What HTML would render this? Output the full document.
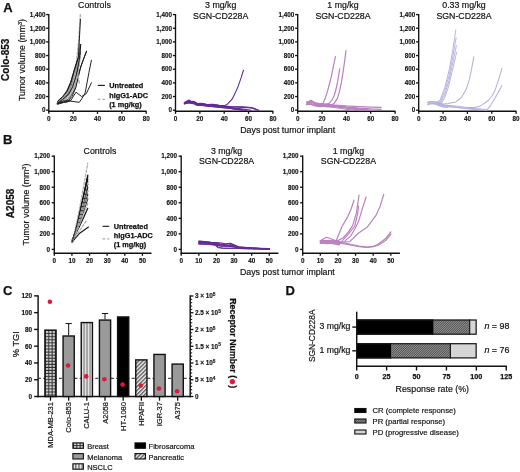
<!DOCTYPE html>
<html lang="en"><head><meta charset="utf-8"><title>Figure</title>
<style>html,body{margin:0;padding:0;background:#fff}body{width:520px;height:472px;overflow:hidden}svg{display:block}text{font-family:"Liberation Sans", "DejaVu Sans", sans-serif}</style>
</head><body>
<svg width="520" height="472" viewBox="0 0 520 472" font-family='"Liberation Sans", "DejaVu Sans", sans-serif'>
<rect width="520" height="472" fill="#fff"/>
<defs>
<pattern id="pgrid" x="46.0" y="331.05" width="3.3" height="3.07" patternUnits="userSpaceOnUse"><rect width="3.3" height="3.07" fill="#2c2c2c"/><rect x="0.05" y="0.05" width="2.2" height="2.0" fill="#dedede"/></pattern>
<pattern id="pgridL" x="74.0" y="443.1" width="3.3" height="3.0" patternUnits="userSpaceOnUse"><rect width="3.3" height="3.0" fill="#2c2c2c"/><rect x="0.05" y="0.05" width="2.2" height="2.0" fill="#dedede"/></pattern>
<pattern id="pvert" x="81.85" y="0" width="3.05" height="4" patternUnits="userSpaceOnUse"><rect width="3.05" height="4" fill="#a4a4a4"/><rect width="1.0" height="4" fill="#efefef"/></pattern>
<pattern id="pvertL" x="75.3" y="0" width="3.15" height="4" patternUnits="userSpaceOnUse"><rect width="3.15" height="4" fill="#e6e6e6"/><rect width="1.1" height="4" fill="#555"/></pattern>
<pattern id="pdiag" width="2.8" height="2.8" patternUnits="userSpaceOnUse" patternTransform="rotate(-45)"><rect width="2.8" height="2.8" fill="#e6e6e6"/><path d="M0 0.6H2.8" stroke="#4c4c4c" stroke-width="1.15"/></pattern>
<pattern id="pdense" width="1.6" height="1.6" patternUnits="userSpaceOnUse" patternTransform="rotate(-45)"><rect width="1.6" height="1.6" fill="#9a9a9a"/><path d="M0 0.4H1.6" stroke="#4a4a4a" stroke-width="0.8"/></pattern>
</defs>
<text x="3.20" y="11.50" font-size="13" font-weight="bold" text-anchor="start" fill="#111" stroke="#111" stroke-width="0.25" >A</text>
<text x="2.90" y="143.50" font-size="13" font-weight="bold" text-anchor="start" fill="#111" stroke="#111" stroke-width="0.25" >B</text>
<text x="2.90" y="294.60" font-size="13" font-weight="bold" text-anchor="start" fill="#111" stroke="#111" stroke-width="0.25" >C</text>
<text x="285.40" y="294.70" font-size="13" font-weight="bold" text-anchor="start" fill="#111" stroke="#111" stroke-width="0.25" >D</text>
<line x1="48.80" y1="13.98" x2="48.80" y2="111.85" stroke="#111" stroke-width="1.35" />
<line x1="48.20" y1="111.25" x2="146.50" y2="111.25" stroke="#111" stroke-width="1.35" />
<line x1="46.20" y1="110.20" x2="48.80" y2="110.20" stroke="#111" stroke-width="1.35" />
<text x="45.40" y="112.47" font-size="6.3" font-weight="bold" text-anchor="end" fill="#111" stroke="#111" stroke-width="0.14" >0</text>
<line x1="46.20" y1="96.54" x2="48.80" y2="96.54" stroke="#111" stroke-width="1.35" />
<text x="45.40" y="98.81" font-size="6.3" font-weight="bold" text-anchor="end" fill="#111" stroke="#111" stroke-width="0.14" >200</text>
<line x1="46.20" y1="82.88" x2="48.80" y2="82.88" stroke="#111" stroke-width="1.35" />
<text x="45.40" y="85.15" font-size="6.3" font-weight="bold" text-anchor="end" fill="#111" stroke="#111" stroke-width="0.14" >400</text>
<line x1="46.20" y1="69.22" x2="48.80" y2="69.22" stroke="#111" stroke-width="1.35" />
<text x="45.40" y="71.49" font-size="6.3" font-weight="bold" text-anchor="end" fill="#111" stroke="#111" stroke-width="0.14" >600</text>
<line x1="46.20" y1="55.56" x2="48.80" y2="55.56" stroke="#111" stroke-width="1.35" />
<text x="45.40" y="57.83" font-size="6.3" font-weight="bold" text-anchor="end" fill="#111" stroke="#111" stroke-width="0.14" >800</text>
<line x1="46.20" y1="41.90" x2="48.80" y2="41.90" stroke="#111" stroke-width="1.35" />
<text x="45.40" y="44.17" font-size="6.3" font-weight="bold" text-anchor="end" fill="#111" stroke="#111" stroke-width="0.14" >1,000</text>
<line x1="46.20" y1="28.24" x2="48.80" y2="28.24" stroke="#111" stroke-width="1.35" />
<text x="45.40" y="30.51" font-size="6.3" font-weight="bold" text-anchor="end" fill="#111" stroke="#111" stroke-width="0.14" >1,200</text>
<line x1="46.20" y1="14.58" x2="48.80" y2="14.58" stroke="#111" stroke-width="1.35" />
<text x="45.40" y="16.85" font-size="6.3" font-weight="bold" text-anchor="end" fill="#111" stroke="#111" stroke-width="0.14" >1,400</text>
<line x1="48.80" y1="111.25" x2="48.80" y2="113.85" stroke="#111" stroke-width="1.35" />
<text x="48.80" y="120.80" font-size="6.3" font-weight="bold" text-anchor="middle" fill="#111" stroke="#111" stroke-width="0.14" >0</text>
<line x1="73.15" y1="111.25" x2="73.15" y2="113.85" stroke="#111" stroke-width="1.35" />
<text x="73.15" y="120.80" font-size="6.3" font-weight="bold" text-anchor="middle" fill="#111" stroke="#111" stroke-width="0.14" >20</text>
<line x1="97.50" y1="111.25" x2="97.50" y2="113.85" stroke="#111" stroke-width="1.35" />
<text x="97.50" y="120.80" font-size="6.3" font-weight="bold" text-anchor="middle" fill="#111" stroke="#111" stroke-width="0.14" >40</text>
<line x1="121.85" y1="111.25" x2="121.85" y2="113.85" stroke="#111" stroke-width="1.35" />
<text x="121.85" y="120.80" font-size="6.3" font-weight="bold" text-anchor="middle" fill="#111" stroke="#111" stroke-width="0.14" >60</text>
<line x1="146.20" y1="111.25" x2="146.20" y2="113.85" stroke="#111" stroke-width="1.35" />
<text x="146.20" y="120.80" font-size="6.3" font-weight="bold" text-anchor="middle" fill="#111" stroke="#111" stroke-width="0.14" >80</text>
<line x1="175.50" y1="13.98" x2="175.50" y2="111.85" stroke="#111" stroke-width="1.35" />
<line x1="174.90" y1="111.25" x2="273.20" y2="111.25" stroke="#111" stroke-width="1.35" />
<line x1="172.90" y1="110.20" x2="175.50" y2="110.20" stroke="#111" stroke-width="1.35" />
<text x="172.10" y="112.47" font-size="6.3" font-weight="bold" text-anchor="end" fill="#111" stroke="#111" stroke-width="0.14" >0</text>
<line x1="172.90" y1="96.54" x2="175.50" y2="96.54" stroke="#111" stroke-width="1.35" />
<text x="172.10" y="98.81" font-size="6.3" font-weight="bold" text-anchor="end" fill="#111" stroke="#111" stroke-width="0.14" >200</text>
<line x1="172.90" y1="82.88" x2="175.50" y2="82.88" stroke="#111" stroke-width="1.35" />
<text x="172.10" y="85.15" font-size="6.3" font-weight="bold" text-anchor="end" fill="#111" stroke="#111" stroke-width="0.14" >400</text>
<line x1="172.90" y1="69.22" x2="175.50" y2="69.22" stroke="#111" stroke-width="1.35" />
<text x="172.10" y="71.49" font-size="6.3" font-weight="bold" text-anchor="end" fill="#111" stroke="#111" stroke-width="0.14" >600</text>
<line x1="172.90" y1="55.56" x2="175.50" y2="55.56" stroke="#111" stroke-width="1.35" />
<text x="172.10" y="57.83" font-size="6.3" font-weight="bold" text-anchor="end" fill="#111" stroke="#111" stroke-width="0.14" >800</text>
<line x1="172.90" y1="41.90" x2="175.50" y2="41.90" stroke="#111" stroke-width="1.35" />
<text x="172.10" y="44.17" font-size="6.3" font-weight="bold" text-anchor="end" fill="#111" stroke="#111" stroke-width="0.14" >1,000</text>
<line x1="172.90" y1="28.24" x2="175.50" y2="28.24" stroke="#111" stroke-width="1.35" />
<text x="172.10" y="30.51" font-size="6.3" font-weight="bold" text-anchor="end" fill="#111" stroke="#111" stroke-width="0.14" >1,200</text>
<line x1="172.90" y1="14.58" x2="175.50" y2="14.58" stroke="#111" stroke-width="1.35" />
<text x="172.10" y="16.85" font-size="6.3" font-weight="bold" text-anchor="end" fill="#111" stroke="#111" stroke-width="0.14" >1,400</text>
<line x1="175.50" y1="111.25" x2="175.50" y2="113.85" stroke="#111" stroke-width="1.35" />
<text x="175.50" y="120.80" font-size="6.3" font-weight="bold" text-anchor="middle" fill="#111" stroke="#111" stroke-width="0.14" >0</text>
<line x1="199.85" y1="111.25" x2="199.85" y2="113.85" stroke="#111" stroke-width="1.35" />
<text x="199.85" y="120.80" font-size="6.3" font-weight="bold" text-anchor="middle" fill="#111" stroke="#111" stroke-width="0.14" >20</text>
<line x1="224.20" y1="111.25" x2="224.20" y2="113.85" stroke="#111" stroke-width="1.35" />
<text x="224.20" y="120.80" font-size="6.3" font-weight="bold" text-anchor="middle" fill="#111" stroke="#111" stroke-width="0.14" >40</text>
<line x1="248.55" y1="111.25" x2="248.55" y2="113.85" stroke="#111" stroke-width="1.35" />
<text x="248.55" y="120.80" font-size="6.3" font-weight="bold" text-anchor="middle" fill="#111" stroke="#111" stroke-width="0.14" >60</text>
<line x1="272.90" y1="111.25" x2="272.90" y2="113.85" stroke="#111" stroke-width="1.35" />
<text x="272.90" y="120.80" font-size="6.3" font-weight="bold" text-anchor="middle" fill="#111" stroke="#111" stroke-width="0.14" >80</text>
<line x1="297.70" y1="13.98" x2="297.70" y2="111.85" stroke="#111" stroke-width="1.35" />
<line x1="297.10" y1="111.25" x2="395.40" y2="111.25" stroke="#111" stroke-width="1.35" />
<line x1="295.10" y1="110.20" x2="297.70" y2="110.20" stroke="#111" stroke-width="1.35" />
<text x="294.30" y="112.47" font-size="6.3" font-weight="bold" text-anchor="end" fill="#111" stroke="#111" stroke-width="0.14" >0</text>
<line x1="295.10" y1="96.54" x2="297.70" y2="96.54" stroke="#111" stroke-width="1.35" />
<text x="294.30" y="98.81" font-size="6.3" font-weight="bold" text-anchor="end" fill="#111" stroke="#111" stroke-width="0.14" >200</text>
<line x1="295.10" y1="82.88" x2="297.70" y2="82.88" stroke="#111" stroke-width="1.35" />
<text x="294.30" y="85.15" font-size="6.3" font-weight="bold" text-anchor="end" fill="#111" stroke="#111" stroke-width="0.14" >400</text>
<line x1="295.10" y1="69.22" x2="297.70" y2="69.22" stroke="#111" stroke-width="1.35" />
<text x="294.30" y="71.49" font-size="6.3" font-weight="bold" text-anchor="end" fill="#111" stroke="#111" stroke-width="0.14" >600</text>
<line x1="295.10" y1="55.56" x2="297.70" y2="55.56" stroke="#111" stroke-width="1.35" />
<text x="294.30" y="57.83" font-size="6.3" font-weight="bold" text-anchor="end" fill="#111" stroke="#111" stroke-width="0.14" >800</text>
<line x1="295.10" y1="41.90" x2="297.70" y2="41.90" stroke="#111" stroke-width="1.35" />
<text x="294.30" y="44.17" font-size="6.3" font-weight="bold" text-anchor="end" fill="#111" stroke="#111" stroke-width="0.14" >1,000</text>
<line x1="295.10" y1="28.24" x2="297.70" y2="28.24" stroke="#111" stroke-width="1.35" />
<text x="294.30" y="30.51" font-size="6.3" font-weight="bold" text-anchor="end" fill="#111" stroke="#111" stroke-width="0.14" >1,200</text>
<line x1="295.10" y1="14.58" x2="297.70" y2="14.58" stroke="#111" stroke-width="1.35" />
<text x="294.30" y="16.85" font-size="6.3" font-weight="bold" text-anchor="end" fill="#111" stroke="#111" stroke-width="0.14" >1,400</text>
<line x1="297.70" y1="111.25" x2="297.70" y2="113.85" stroke="#111" stroke-width="1.35" />
<text x="297.70" y="120.80" font-size="6.3" font-weight="bold" text-anchor="middle" fill="#111" stroke="#111" stroke-width="0.14" >0</text>
<line x1="322.05" y1="111.25" x2="322.05" y2="113.85" stroke="#111" stroke-width="1.35" />
<text x="322.05" y="120.80" font-size="6.3" font-weight="bold" text-anchor="middle" fill="#111" stroke="#111" stroke-width="0.14" >20</text>
<line x1="346.40" y1="111.25" x2="346.40" y2="113.85" stroke="#111" stroke-width="1.35" />
<text x="346.40" y="120.80" font-size="6.3" font-weight="bold" text-anchor="middle" fill="#111" stroke="#111" stroke-width="0.14" >40</text>
<line x1="370.75" y1="111.25" x2="370.75" y2="113.85" stroke="#111" stroke-width="1.35" />
<text x="370.75" y="120.80" font-size="6.3" font-weight="bold" text-anchor="middle" fill="#111" stroke="#111" stroke-width="0.14" >60</text>
<line x1="395.10" y1="111.25" x2="395.10" y2="113.85" stroke="#111" stroke-width="1.35" />
<text x="395.10" y="120.80" font-size="6.3" font-weight="bold" text-anchor="middle" fill="#111" stroke="#111" stroke-width="0.14" >80</text>
<line x1="418.70" y1="13.98" x2="418.70" y2="111.85" stroke="#111" stroke-width="1.35" />
<line x1="418.10" y1="111.25" x2="516.40" y2="111.25" stroke="#111" stroke-width="1.35" />
<line x1="416.10" y1="110.20" x2="418.70" y2="110.20" stroke="#111" stroke-width="1.35" />
<text x="415.30" y="112.47" font-size="6.3" font-weight="bold" text-anchor="end" fill="#111" stroke="#111" stroke-width="0.14" >0</text>
<line x1="416.10" y1="96.54" x2="418.70" y2="96.54" stroke="#111" stroke-width="1.35" />
<text x="415.30" y="98.81" font-size="6.3" font-weight="bold" text-anchor="end" fill="#111" stroke="#111" stroke-width="0.14" >200</text>
<line x1="416.10" y1="82.88" x2="418.70" y2="82.88" stroke="#111" stroke-width="1.35" />
<text x="415.30" y="85.15" font-size="6.3" font-weight="bold" text-anchor="end" fill="#111" stroke="#111" stroke-width="0.14" >400</text>
<line x1="416.10" y1="69.22" x2="418.70" y2="69.22" stroke="#111" stroke-width="1.35" />
<text x="415.30" y="71.49" font-size="6.3" font-weight="bold" text-anchor="end" fill="#111" stroke="#111" stroke-width="0.14" >600</text>
<line x1="416.10" y1="55.56" x2="418.70" y2="55.56" stroke="#111" stroke-width="1.35" />
<text x="415.30" y="57.83" font-size="6.3" font-weight="bold" text-anchor="end" fill="#111" stroke="#111" stroke-width="0.14" >800</text>
<line x1="416.10" y1="41.90" x2="418.70" y2="41.90" stroke="#111" stroke-width="1.35" />
<text x="415.30" y="44.17" font-size="6.3" font-weight="bold" text-anchor="end" fill="#111" stroke="#111" stroke-width="0.14" >1,000</text>
<line x1="416.10" y1="28.24" x2="418.70" y2="28.24" stroke="#111" stroke-width="1.35" />
<text x="415.30" y="30.51" font-size="6.3" font-weight="bold" text-anchor="end" fill="#111" stroke="#111" stroke-width="0.14" >1,200</text>
<line x1="416.10" y1="14.58" x2="418.70" y2="14.58" stroke="#111" stroke-width="1.35" />
<text x="415.30" y="16.85" font-size="6.3" font-weight="bold" text-anchor="end" fill="#111" stroke="#111" stroke-width="0.14" >1,400</text>
<line x1="418.70" y1="111.25" x2="418.70" y2="113.85" stroke="#111" stroke-width="1.35" />
<text x="418.70" y="120.80" font-size="6.3" font-weight="bold" text-anchor="middle" fill="#111" stroke="#111" stroke-width="0.14" >0</text>
<line x1="443.05" y1="111.25" x2="443.05" y2="113.85" stroke="#111" stroke-width="1.35" />
<text x="443.05" y="120.80" font-size="6.3" font-weight="bold" text-anchor="middle" fill="#111" stroke="#111" stroke-width="0.14" >20</text>
<line x1="467.40" y1="111.25" x2="467.40" y2="113.85" stroke="#111" stroke-width="1.35" />
<text x="467.40" y="120.80" font-size="6.3" font-weight="bold" text-anchor="middle" fill="#111" stroke="#111" stroke-width="0.14" >40</text>
<line x1="491.75" y1="111.25" x2="491.75" y2="113.85" stroke="#111" stroke-width="1.35" />
<text x="491.75" y="120.80" font-size="6.3" font-weight="bold" text-anchor="middle" fill="#111" stroke="#111" stroke-width="0.14" >60</text>
<line x1="516.10" y1="111.25" x2="516.10" y2="113.85" stroke="#111" stroke-width="1.35" />
<text x="516.10" y="120.80" font-size="6.3" font-weight="bold" text-anchor="middle" fill="#111" stroke="#111" stroke-width="0.14" >80</text>
<text x="94.50" y="7.70" font-size="8.8" font-weight="normal" text-anchor="middle" fill="#111" stroke="#111" stroke-width="0.18" >Controls</text>
<text x="220.70" y="7.70" font-size="8.8" font-weight="normal" text-anchor="middle" fill="#111" stroke="#111" stroke-width="0.18" >3 mg/kg</text>
<text x="220.70" y="19.00" font-size="8.8" font-weight="normal" text-anchor="middle" fill="#111" stroke="#111" stroke-width="0.18" >SGN-CD228A</text>
<text x="343.00" y="7.70" font-size="8.8" font-weight="normal" text-anchor="middle" fill="#111" stroke="#111" stroke-width="0.18" >1 mg/kg</text>
<text x="343.00" y="19.00" font-size="8.8" font-weight="normal" text-anchor="middle" fill="#111" stroke="#111" stroke-width="0.18" >SGN-CD228A</text>
<text x="464.00" y="7.70" font-size="8.8" font-weight="normal" text-anchor="middle" fill="#111" stroke="#111" stroke-width="0.18" >0.33 mg/kg</text>
<text x="464.00" y="19.00" font-size="8.8" font-weight="normal" text-anchor="middle" fill="#111" stroke="#111" stroke-width="0.18" >SGN-CD228A</text>
<text x="287.70" y="133.30" font-size="8.8" font-weight="normal" text-anchor="middle" fill="#111" stroke="#111" stroke-width="0.18" >Days post tumor implant</text>
<text transform="translate(24.50,60.00) rotate(-90)" font-size="8.8" font-weight="normal" text-anchor="middle" fill="#111" stroke="#111" stroke-width="0.18">Tumor volume (mm<tspan font-size="5.5" dy="-3">3</tspan><tspan dy="3">)</tspan></text>
<text transform="translate(8.70,59.80) rotate(-90)" font-size="10" font-weight="bold" text-anchor="middle" fill="#111" stroke="#111" stroke-width="0.25">Colo-853</text>
<line x1="97.80" y1="85.40" x2="104.90" y2="85.40" stroke="#111" stroke-width="1.1" />
<line x1="97.80" y1="99.40" x2="104.90" y2="99.40" stroke="#aaa" stroke-width="1.4" stroke-dasharray="2.6 2"/>
<text x="109.20" y="88.00" font-size="7.3" font-weight="bold" text-anchor="start" fill="#111" stroke="#111" stroke-width="0.25" >Untreated</text>
<text x="109.20" y="97.60" font-size="7.3" font-weight="bold" text-anchor="start" fill="#111" stroke="#111" stroke-width="0.25" >hIgG1-ADC</text>
<text x="109.20" y="106.60" font-size="7.3" font-weight="bold" text-anchor="start" fill="#111" stroke="#111" stroke-width="0.25" >(1 mg/kg)</text>
<polyline points="57.69,104.19 62.62,99.95 67.31,94.15 71.57,84.25 75.46,71.27 78.87,56.24 80.70,44.50" fill="none" stroke="#161616" stroke-width="0.95" stroke-linejoin="round" stroke-linecap="round" />
<polyline points="58.05,102.14 63.84,98.93 69.13,93.12 73.76,82.88 77.41,70.59 80.09,56.93 80.70,44.63" fill="none" stroke="#161616" stroke-width="0.95" stroke-linejoin="round" stroke-linecap="round" />
<polyline points="57.32,104.39 63.41,102.55 67.79,101.80 71.93,96.54 75.95,87.39 79.24,71.20 83.38,59.66 86.54,51.12" fill="none" stroke="#161616" stroke-width="0.95" stroke-linejoin="round" stroke-linecap="round" />
<polyline points="57.93,103.71 64.63,101.66 69.50,98.25 74.37,89.71 78.02,78.10 81.06,65.81 83.38,59.32 86.54,51.33" fill="none" stroke="#161616" stroke-width="0.95" stroke-linejoin="round" stroke-linecap="round" />
<polyline points="57.32,103.37 62.19,99.95 67.06,93.47 71.93,79.47 76.44,62.19 78.63,41.90 80.33,14.58" fill="none" stroke="#a8a8a8" stroke-width="1.3" stroke-linejoin="round" stroke-linecap="round" stroke-dasharray="2.6 1.6"/>
<polyline points="57.32,103.92 63.41,100.30 68.89,94.15 73.76,82.20 77.41,67.85 80.09,48.73" fill="none" stroke="#a8a8a8" stroke-width="1.3" stroke-linejoin="round" stroke-linecap="round" stroke-dasharray="2.6 1.6"/>
<polyline points="57.93,102.55 64.63,99.95 70.11,93.81 74.98,84.25 78.02,74.68 79.24,83.22" fill="none" stroke="#a8a8a8" stroke-width="1.3" stroke-linejoin="round" stroke-linecap="round" stroke-dasharray="2.6 1.6"/>
<polyline points="57.32,103.64 63.41,101.32 70.11,96.20 74.98,86.30 78.63,69.22 80.45,55.56" fill="none" stroke="#a8a8a8" stroke-width="1.3" stroke-linejoin="round" stroke-linecap="round" stroke-dasharray="2.6 1.6"/>
<polyline points="57.32,103.37 63.41,98.59 68.89,90.39 73.76,76.73 77.41,62.39 79.48,43.27" fill="none" stroke="#a8a8a8" stroke-width="1.3" stroke-linejoin="round" stroke-linecap="round" stroke-dasharray="2.6 1.6"/>
<polyline points="57.32,103.03 63.41,100.98 70.72,100.64 75.95,92.17 81.67,96.54 86.30,93.67 91.41,82.74" fill="none" stroke="#161616" stroke-width="0.95" stroke-linejoin="round" stroke-linecap="round" />
<polyline points="57.32,103.71 63.41,102.14 70.72,101.18 79.24,102.35 81.67,98.93 85.08,93.12 88.98,72.36 91.41,60.20" fill="none" stroke="#161616" stroke-width="0.95" stroke-linejoin="round" stroke-linecap="round" />
<polyline points="57.57,103.37 62.62,99.27 68.52,94.49 72.78,86.64 76.44,74.68 79.48,58.29 80.21,46.68" fill="none" stroke="#161616" stroke-width="0.95" stroke-linejoin="round" stroke-linecap="round" />
<polyline points="57.81,100.98 62.62,96.54 66.70,91.08 70.59,82.20 74.25,69.90 77.90,58.29" fill="none" stroke="#161616" stroke-width="0.95" stroke-linejoin="round" stroke-linecap="round" />
<polyline points="57.69,101.46 62.62,97.22 66.94,91.76 70.96,82.74 74.49,70.04 78.39,57.40 80.45,19.36" fill="none" stroke="#161616" stroke-width="0.95" stroke-linejoin="round" stroke-linecap="round" />
<polyline points="184.39,102.55 186.46,101.46 188.89,99.95 191.33,101.46 193.52,101.32 197.41,103.51 202.04,103.30 207.16,104.46 212.76,104.19 219.33,105.28 225.05,105.97 230.29,106.51 236.38,106.78 242.46,106.92 248.55,107.19 251.59,107.47 254.64,108.56 258.05,110.20" fill="none" stroke="#642a97" stroke-width="1.1" stroke-linejoin="round" stroke-linecap="round" />
<polyline points="184.39,103.10 186.46,102.14 188.89,100.77 191.33,102.00 193.52,101.87 197.41,103.92 202.04,103.92 207.16,104.87 212.76,104.74 219.33,105.69 225.05,106.38 230.29,106.78 236.38,107.06 242.46,107.33 248.55,107.60 252.20,108.15 255.86,109.38 258.90,110.20" fill="none" stroke="#642a97" stroke-width="1.1" stroke-linejoin="round" stroke-linecap="round" />
<polyline points="184.39,103.51 186.46,102.82 188.89,101.66 191.33,102.55 193.52,102.55 197.41,104.39 202.04,104.46 207.16,105.28 212.76,105.28 219.33,106.24 225.05,106.92 230.29,107.47 236.38,108.15 242.46,108.97 248.55,109.79 250.99,110.20" fill="none" stroke="#642a97" stroke-width="1.1" stroke-linejoin="round" stroke-linecap="round" />
<polyline points="184.39,103.78 186.46,103.23 188.89,102.35 191.33,103.10 193.52,103.10 197.41,104.87 202.04,105.01 207.16,105.69 212.76,105.83 219.33,106.78 225.05,107.33 230.29,107.88 236.38,108.70 241.25,109.52 246.12,110.20" fill="none" stroke="#642a97" stroke-width="1.1" stroke-linejoin="round" stroke-linecap="round" />
<polyline points="184.39,104.05 186.46,103.51 188.89,102.96 191.33,103.51 193.52,103.64 197.41,105.42 202.04,105.56 207.16,106.24 212.76,106.65 219.33,107.47 225.05,108.01 230.29,108.15 233.94,108.70 238.81,109.24 246.12,110.20" fill="none" stroke="#642a97" stroke-width="1.1" stroke-linejoin="round" stroke-linecap="round" />
<polyline points="184.39,103.37 186.46,102.55 188.89,101.32 191.33,102.69 193.52,102.14 197.41,105.15 202.04,105.28 207.16,105.97 212.76,106.38 219.33,107.19 225.05,107.74 229.07,108.29 233.94,109.11 238.81,109.79 242.46,110.20" fill="none" stroke="#642a97" stroke-width="1.1" stroke-linejoin="round" stroke-linecap="round" />
<polyline points="184.39,102.82 186.46,101.87 188.89,100.36 191.33,101.73 193.52,101.59 197.41,103.71 202.04,103.64 207.16,104.74 212.76,104.46 219.33,105.56 225.05,106.24" fill="none" stroke="#642a97" stroke-width="1.1" stroke-linejoin="round" stroke-linecap="round" />
<polyline points="219.33,105.69 224.20,106.10 227.85,103.71 232.11,99.14 235.16,93.12 238.20,86.16 241.25,77.42 243.44,70.24" fill="none" stroke="#642a97" stroke-width="1.1" stroke-linejoin="round" stroke-linecap="round" />
<polyline points="306.83,104.69 308.66,104.15 311.09,103.93 313.53,105.14 315.96,106.20 319.62,106.63 323.27,106.36 326.92,106.48" fill="none" stroke="#b982bf" stroke-width="1.15" stroke-linejoin="round" stroke-linecap="round" />
<polyline points="306.83,104.35 308.66,104.27 311.09,104.34 313.53,105.11 315.96,105.51 319.62,105.53 323.27,105.94 326.92,106.74" fill="none" stroke="#b982bf" stroke-width="1.15" stroke-linejoin="round" stroke-linecap="round" />
<polyline points="306.83,104.55 308.66,104.31 311.09,103.78 313.53,104.06 315.96,104.48 319.62,105.18 323.27,106.10 326.92,106.57" fill="none" stroke="#b982bf" stroke-width="1.15" stroke-linejoin="round" stroke-linecap="round" />
<polyline points="306.83,104.05 308.66,103.31 311.09,102.28 313.53,103.07 315.96,104.32 319.62,105.55 323.27,105.82 326.92,105.56" fill="none" stroke="#b982bf" stroke-width="1.15" stroke-linejoin="round" stroke-linecap="round" />
<polyline points="306.83,103.71 308.66,102.99 311.09,101.84 313.53,102.56 315.96,103.79 319.62,105.09 323.27,105.52 326.92,105.28" fill="none" stroke="#b982bf" stroke-width="1.15" stroke-linejoin="round" stroke-linecap="round" />
<polyline points="306.83,102.44 308.66,102.06 311.09,101.65 313.53,103.01 315.96,104.13 319.62,104.45 323.27,104.42 326.92,104.82" fill="none" stroke="#b982bf" stroke-width="1.15" stroke-linejoin="round" stroke-linecap="round" />
<polyline points="306.83,102.57 308.66,102.47 311.09,101.88 313.53,102.47 315.96,103.01 319.62,103.49 323.27,104.42 326.92,105.14" fill="none" stroke="#b982bf" stroke-width="1.15" stroke-linejoin="round" stroke-linecap="round" />
<polyline points="306.83,101.79 308.66,101.18 311.09,100.25 313.53,101.66 315.96,103.14 319.62,103.95 323.27,103.93 326.92,103.95" fill="none" stroke="#b982bf" stroke-width="1.15" stroke-linejoin="round" stroke-linecap="round" />
<polyline points="326.92,104.33 334.22,105.01 346.40,105.97 358.57,106.65 370.75,107.13 381.10,107.40" fill="none" stroke="#b982bf" stroke-width="1.2" stroke-linejoin="round" stroke-linecap="round" />
<polyline points="326.92,105.28 334.22,105.97 346.40,107.06 358.57,108.15 370.75,108.97 381.10,109.38" fill="none" stroke="#b982bf" stroke-width="1.2" stroke-linejoin="round" stroke-linecap="round" />
<polyline points="326.92,105.97 334.22,106.65 343.96,107.74 353.70,109.18 361.01,110.20" fill="none" stroke="#b982bf" stroke-width="1.2" stroke-linejoin="round" stroke-linecap="round" />
<polyline points="326.92,106.65 334.22,107.47 341.53,108.49 348.83,109.65 353.70,110.20" fill="none" stroke="#b982bf" stroke-width="1.2" stroke-linejoin="round" stroke-linecap="round" />
<polyline points="326.92,104.74 334.22,105.69 346.40,107.33 358.57,108.70 368.31,109.86 373.19,110.20" fill="none" stroke="#b982bf" stroke-width="1.2" stroke-linejoin="round" stroke-linecap="round" />
<polyline points="326.92,106.38 334.22,106.24 341.53,106.78 351.27,108.15 361.01,109.52 365.88,110.20" fill="none" stroke="#b982bf" stroke-width="1.2" stroke-linejoin="round" stroke-linecap="round" />
<polyline points="314.75,103.71 319.62,104.39 323.02,103.37 325.09,98.59 327.29,92.10 329.36,84.25 331.67,74.82 333.62,65.12 335.44,56.58" fill="none" stroke="#b982bf" stroke-width="1.2" stroke-linejoin="round" stroke-linecap="round" />
<polyline points="319.62,104.74 324.49,105.08 328.99,103.37 331.79,100.30 334.22,95.58 336.05,89.03 337.63,81.72 339.70,68.81" fill="none" stroke="#b982bf" stroke-width="1.2" stroke-linejoin="round" stroke-linecap="round" />
<polyline points="324.49,105.08 330.57,105.42 334.22,103.37 337.27,98.59 339.34,92.10 341.29,82.88 342.87,73.11 344.57,61.71 346.03,50.57" fill="none" stroke="#b982bf" stroke-width="1.2" stroke-linejoin="round" stroke-linecap="round" />
<polyline points="427.83,104.87 429.66,104.26 432.09,103.82 434.53,104.02 436.96,104.85 440.62,106.45 444.27,107.28 447.92,107.17" fill="none" stroke="#b4b1de" stroke-width="1.0" stroke-linejoin="round" stroke-linecap="round" />
<polyline points="427.83,104.31 429.66,103.71 432.09,103.26 434.53,103.51 436.96,104.33 440.62,105.93 444.27,106.83 447.92,106.73" fill="none" stroke="#b4b1de" stroke-width="1.0" stroke-linejoin="round" stroke-linecap="round" />
<polyline points="427.83,103.24 429.66,103.23 432.09,103.48 434.53,103.79 436.96,104.10 440.62,104.71 444.27,105.85 447.92,106.67" fill="none" stroke="#b4b1de" stroke-width="1.0" stroke-linejoin="round" stroke-linecap="round" />
<polyline points="427.83,102.49 429.66,101.92 432.09,101.96 434.53,102.88 436.96,103.94 440.62,105.05 444.27,105.40 447.92,105.47" fill="none" stroke="#b4b1de" stroke-width="1.0" stroke-linejoin="round" stroke-linecap="round" />
<polyline points="427.83,102.65 429.66,102.33 432.09,102.03 434.53,102.21 436.96,102.66 440.62,103.96 444.27,105.41 447.92,105.72" fill="none" stroke="#b4b1de" stroke-width="1.0" stroke-linejoin="round" stroke-linecap="round" />
<polyline points="427.83,102.07 429.66,101.76 432.09,101.47 434.53,101.71 436.96,102.15 440.62,103.44 444.27,104.95 447.92,105.27" fill="none" stroke="#b4b1de" stroke-width="1.0" stroke-linejoin="round" stroke-linecap="round" />
<polyline points="447.92,105.42 455.22,105.97" fill="none" stroke="#b4b1de" stroke-width="1.0" stroke-linejoin="round" stroke-linecap="round" />
<polyline points="447.92,106.78 455.22,107.47 464.96,108.15 474.70,108.70" fill="none" stroke="#b4b1de" stroke-width="1.0" stroke-linejoin="round" stroke-linecap="round" />
<polyline points="447.92,106.10 455.22,107.13 464.96,108.49 474.70,109.52 482.01,109.93 486.76,110.20" fill="none" stroke="#b4b1de" stroke-width="1.0" stroke-linejoin="round" stroke-linecap="round" />
<polyline points="435.75,102.55 440.01,100.30 444.75,87.66 449.50,68.61 452.79,50.10 455.83,29.81" fill="none" stroke="#b4b1de" stroke-width="0.95" stroke-linejoin="round" stroke-linecap="round" />
<polyline points="436.18,103.04 440.49,101.40 444.62,91.55 449.06,75.47 452.53,57.89 456.14,37.85" fill="none" stroke="#b4b1de" stroke-width="0.95" stroke-linejoin="round" stroke-linecap="round" />
<polyline points="436.60,103.51 440.94,102.45 444.50,95.21 448.65,81.94 452.28,65.25 456.43,45.44" fill="none" stroke="#b4b1de" stroke-width="0.95" stroke-linejoin="round" stroke-linecap="round" />
<polyline points="436.96,103.92 441.35,103.37 444.39,98.45 448.29,87.66 452.06,71.75 456.69,52.15" fill="none" stroke="#b4b1de" stroke-width="0.95" stroke-linejoin="round" stroke-linecap="round" />
<polyline points="436.96,103.37 443.05,103.92 447.92,103.51 455.83,101.94 459.49,99.27 462.16,96.34 466.18,89.23 469.35,79.67 471.66,68.61 473.85,56.72" fill="none" stroke="#b4b1de" stroke-width="1.05" stroke-linejoin="round" stroke-linecap="round" />
<polyline points="455.22,105.97 461.31,106.78 467.40,107.47 474.95,107.47 479.57,106.24 482.86,104.33 486.27,102.00 489.19,99.55 492.36,95.52 494.79,90.80 498.69,79.67 501.86,68.61" fill="none" stroke="#b4b1de" stroke-width="1.05" stroke-linejoin="round" stroke-linecap="round" />
<polyline points="474.70,108.70 479.57,108.83 486.88,110.06 490.78,105.08 495.52,97.15 501.86,85.75" fill="none" stroke="#b4b1de" stroke-width="1.05" stroke-linejoin="round" stroke-linecap="round" />
<line x1="54.30" y1="155.56" x2="54.30" y2="253.80" stroke="#111" stroke-width="1.35" />
<line x1="53.70" y1="253.20" x2="151.51" y2="253.20" stroke="#111" stroke-width="1.35" />
<line x1="51.70" y1="249.40" x2="54.30" y2="249.40" stroke="#111" stroke-width="1.35" />
<text x="50.00" y="251.67" font-size="6.3" font-weight="bold" text-anchor="end" fill="#111" stroke="#111" stroke-width="0.14" >0</text>
<line x1="51.70" y1="233.86" x2="54.30" y2="233.86" stroke="#111" stroke-width="1.35" />
<text x="50.00" y="236.13" font-size="6.3" font-weight="bold" text-anchor="end" fill="#111" stroke="#111" stroke-width="0.14" >200</text>
<line x1="51.70" y1="218.32" x2="54.30" y2="218.32" stroke="#111" stroke-width="1.35" />
<text x="50.00" y="220.59" font-size="6.3" font-weight="bold" text-anchor="end" fill="#111" stroke="#111" stroke-width="0.14" >400</text>
<line x1="51.70" y1="202.78" x2="54.30" y2="202.78" stroke="#111" stroke-width="1.35" />
<text x="50.00" y="205.05" font-size="6.3" font-weight="bold" text-anchor="end" fill="#111" stroke="#111" stroke-width="0.14" >600</text>
<line x1="51.70" y1="187.24" x2="54.30" y2="187.24" stroke="#111" stroke-width="1.35" />
<text x="50.00" y="189.51" font-size="6.3" font-weight="bold" text-anchor="end" fill="#111" stroke="#111" stroke-width="0.14" >800</text>
<line x1="51.70" y1="171.70" x2="54.30" y2="171.70" stroke="#111" stroke-width="1.35" />
<text x="50.00" y="173.97" font-size="6.3" font-weight="bold" text-anchor="end" fill="#111" stroke="#111" stroke-width="0.14" >1,000</text>
<line x1="51.70" y1="156.16" x2="54.30" y2="156.16" stroke="#111" stroke-width="1.35" />
<text x="50.00" y="158.43" font-size="6.3" font-weight="bold" text-anchor="end" fill="#111" stroke="#111" stroke-width="0.14" >1,200</text>
<line x1="54.30" y1="253.20" x2="54.30" y2="255.80" stroke="#111" stroke-width="1.35" />
<text x="54.30" y="263.00" font-size="6.3" font-weight="bold" text-anchor="middle" fill="#111" stroke="#111" stroke-width="0.14" >0</text>
<line x1="71.92" y1="253.20" x2="71.92" y2="255.80" stroke="#111" stroke-width="1.35" />
<text x="71.92" y="263.00" font-size="6.3" font-weight="bold" text-anchor="middle" fill="#111" stroke="#111" stroke-width="0.14" >10</text>
<line x1="89.54" y1="253.20" x2="89.54" y2="255.80" stroke="#111" stroke-width="1.35" />
<text x="89.54" y="263.00" font-size="6.3" font-weight="bold" text-anchor="middle" fill="#111" stroke="#111" stroke-width="0.14" >20</text>
<line x1="107.16" y1="253.20" x2="107.16" y2="255.80" stroke="#111" stroke-width="1.35" />
<text x="107.16" y="263.00" font-size="6.3" font-weight="bold" text-anchor="middle" fill="#111" stroke="#111" stroke-width="0.14" >30</text>
<line x1="124.78" y1="253.20" x2="124.78" y2="255.80" stroke="#111" stroke-width="1.35" />
<text x="124.78" y="263.00" font-size="6.3" font-weight="bold" text-anchor="middle" fill="#111" stroke="#111" stroke-width="0.14" >40</text>
<line x1="142.40" y1="253.20" x2="142.40" y2="255.80" stroke="#111" stroke-width="1.35" />
<text x="142.40" y="263.00" font-size="6.3" font-weight="bold" text-anchor="middle" fill="#111" stroke="#111" stroke-width="0.14" >50</text>
<line x1="181.20" y1="155.56" x2="181.20" y2="253.80" stroke="#111" stroke-width="1.35" />
<line x1="180.60" y1="253.20" x2="278.41" y2="253.20" stroke="#111" stroke-width="1.35" />
<line x1="178.60" y1="249.40" x2="181.20" y2="249.40" stroke="#111" stroke-width="1.35" />
<text x="176.90" y="251.67" font-size="6.3" font-weight="bold" text-anchor="end" fill="#111" stroke="#111" stroke-width="0.14" >0</text>
<line x1="178.60" y1="233.86" x2="181.20" y2="233.86" stroke="#111" stroke-width="1.35" />
<text x="176.90" y="236.13" font-size="6.3" font-weight="bold" text-anchor="end" fill="#111" stroke="#111" stroke-width="0.14" >200</text>
<line x1="178.60" y1="218.32" x2="181.20" y2="218.32" stroke="#111" stroke-width="1.35" />
<text x="176.90" y="220.59" font-size="6.3" font-weight="bold" text-anchor="end" fill="#111" stroke="#111" stroke-width="0.14" >400</text>
<line x1="178.60" y1="202.78" x2="181.20" y2="202.78" stroke="#111" stroke-width="1.35" />
<text x="176.90" y="205.05" font-size="6.3" font-weight="bold" text-anchor="end" fill="#111" stroke="#111" stroke-width="0.14" >600</text>
<line x1="178.60" y1="187.24" x2="181.20" y2="187.24" stroke="#111" stroke-width="1.35" />
<text x="176.90" y="189.51" font-size="6.3" font-weight="bold" text-anchor="end" fill="#111" stroke="#111" stroke-width="0.14" >800</text>
<line x1="178.60" y1="171.70" x2="181.20" y2="171.70" stroke="#111" stroke-width="1.35" />
<text x="176.90" y="173.97" font-size="6.3" font-weight="bold" text-anchor="end" fill="#111" stroke="#111" stroke-width="0.14" >1,000</text>
<line x1="178.60" y1="156.16" x2="181.20" y2="156.16" stroke="#111" stroke-width="1.35" />
<text x="176.90" y="158.43" font-size="6.3" font-weight="bold" text-anchor="end" fill="#111" stroke="#111" stroke-width="0.14" >1,200</text>
<line x1="181.20" y1="253.20" x2="181.20" y2="255.80" stroke="#111" stroke-width="1.35" />
<text x="181.20" y="263.00" font-size="6.3" font-weight="bold" text-anchor="middle" fill="#111" stroke="#111" stroke-width="0.14" >0</text>
<line x1="198.82" y1="253.20" x2="198.82" y2="255.80" stroke="#111" stroke-width="1.35" />
<text x="198.82" y="263.00" font-size="6.3" font-weight="bold" text-anchor="middle" fill="#111" stroke="#111" stroke-width="0.14" >10</text>
<line x1="216.44" y1="253.20" x2="216.44" y2="255.80" stroke="#111" stroke-width="1.35" />
<text x="216.44" y="263.00" font-size="6.3" font-weight="bold" text-anchor="middle" fill="#111" stroke="#111" stroke-width="0.14" >20</text>
<line x1="234.06" y1="253.20" x2="234.06" y2="255.80" stroke="#111" stroke-width="1.35" />
<text x="234.06" y="263.00" font-size="6.3" font-weight="bold" text-anchor="middle" fill="#111" stroke="#111" stroke-width="0.14" >30</text>
<line x1="251.68" y1="253.20" x2="251.68" y2="255.80" stroke="#111" stroke-width="1.35" />
<text x="251.68" y="263.00" font-size="6.3" font-weight="bold" text-anchor="middle" fill="#111" stroke="#111" stroke-width="0.14" >40</text>
<line x1="269.30" y1="253.20" x2="269.30" y2="255.80" stroke="#111" stroke-width="1.35" />
<text x="269.30" y="263.00" font-size="6.3" font-weight="bold" text-anchor="middle" fill="#111" stroke="#111" stroke-width="0.14" >50</text>
<line x1="302.70" y1="155.56" x2="302.70" y2="253.80" stroke="#111" stroke-width="1.35" />
<line x1="302.10" y1="253.20" x2="399.91" y2="253.20" stroke="#111" stroke-width="1.35" />
<line x1="300.10" y1="249.40" x2="302.70" y2="249.40" stroke="#111" stroke-width="1.35" />
<text x="298.40" y="251.67" font-size="6.3" font-weight="bold" text-anchor="end" fill="#111" stroke="#111" stroke-width="0.14" >0</text>
<line x1="300.10" y1="233.86" x2="302.70" y2="233.86" stroke="#111" stroke-width="1.35" />
<text x="298.40" y="236.13" font-size="6.3" font-weight="bold" text-anchor="end" fill="#111" stroke="#111" stroke-width="0.14" >200</text>
<line x1="300.10" y1="218.32" x2="302.70" y2="218.32" stroke="#111" stroke-width="1.35" />
<text x="298.40" y="220.59" font-size="6.3" font-weight="bold" text-anchor="end" fill="#111" stroke="#111" stroke-width="0.14" >400</text>
<line x1="300.10" y1="202.78" x2="302.70" y2="202.78" stroke="#111" stroke-width="1.35" />
<text x="298.40" y="205.05" font-size="6.3" font-weight="bold" text-anchor="end" fill="#111" stroke="#111" stroke-width="0.14" >600</text>
<line x1="300.10" y1="187.24" x2="302.70" y2="187.24" stroke="#111" stroke-width="1.35" />
<text x="298.40" y="189.51" font-size="6.3" font-weight="bold" text-anchor="end" fill="#111" stroke="#111" stroke-width="0.14" >800</text>
<line x1="300.10" y1="171.70" x2="302.70" y2="171.70" stroke="#111" stroke-width="1.35" />
<text x="298.40" y="173.97" font-size="6.3" font-weight="bold" text-anchor="end" fill="#111" stroke="#111" stroke-width="0.14" >1,000</text>
<line x1="300.10" y1="156.16" x2="302.70" y2="156.16" stroke="#111" stroke-width="1.35" />
<text x="298.40" y="158.43" font-size="6.3" font-weight="bold" text-anchor="end" fill="#111" stroke="#111" stroke-width="0.14" >1,200</text>
<line x1="302.70" y1="253.20" x2="302.70" y2="255.80" stroke="#111" stroke-width="1.35" />
<text x="302.70" y="263.00" font-size="6.3" font-weight="bold" text-anchor="middle" fill="#111" stroke="#111" stroke-width="0.14" >0</text>
<line x1="320.32" y1="253.20" x2="320.32" y2="255.80" stroke="#111" stroke-width="1.35" />
<text x="320.32" y="263.00" font-size="6.3" font-weight="bold" text-anchor="middle" fill="#111" stroke="#111" stroke-width="0.14" >10</text>
<line x1="337.94" y1="253.20" x2="337.94" y2="255.80" stroke="#111" stroke-width="1.35" />
<text x="337.94" y="263.00" font-size="6.3" font-weight="bold" text-anchor="middle" fill="#111" stroke="#111" stroke-width="0.14" >20</text>
<line x1="355.56" y1="253.20" x2="355.56" y2="255.80" stroke="#111" stroke-width="1.35" />
<text x="355.56" y="263.00" font-size="6.3" font-weight="bold" text-anchor="middle" fill="#111" stroke="#111" stroke-width="0.14" >30</text>
<line x1="373.18" y1="253.20" x2="373.18" y2="255.80" stroke="#111" stroke-width="1.35" />
<text x="373.18" y="263.00" font-size="6.3" font-weight="bold" text-anchor="middle" fill="#111" stroke="#111" stroke-width="0.14" >40</text>
<line x1="390.80" y1="253.20" x2="390.80" y2="255.80" stroke="#111" stroke-width="1.35" />
<text x="390.80" y="263.00" font-size="6.3" font-weight="bold" text-anchor="middle" fill="#111" stroke="#111" stroke-width="0.14" >50</text>
<text x="100.00" y="153.60" font-size="8.8" font-weight="normal" text-anchor="middle" fill="#111" stroke="#111" stroke-width="0.18" >Controls</text>
<text x="226.60" y="153.70" font-size="8.8" font-weight="normal" text-anchor="middle" fill="#111" stroke="#111" stroke-width="0.18" >3 mg/kg</text>
<text x="226.60" y="164.30" font-size="8.8" font-weight="normal" text-anchor="middle" fill="#111" stroke="#111" stroke-width="0.18" >SGN-CD228A</text>
<text x="348.40" y="153.70" font-size="8.8" font-weight="normal" text-anchor="middle" fill="#111" stroke="#111" stroke-width="0.18" >1 mg/kg</text>
<text x="348.40" y="164.30" font-size="8.8" font-weight="normal" text-anchor="middle" fill="#111" stroke="#111" stroke-width="0.18" >SGN-CD228A</text>
<text x="287.40" y="274.50" font-size="8.8" font-weight="normal" text-anchor="middle" fill="#111" stroke="#111" stroke-width="0.18" >Days post tumor implant</text>
<text transform="translate(29.40,204.60) rotate(-90)" font-size="8.8" font-weight="normal" text-anchor="middle" fill="#111" stroke="#111" stroke-width="0.18">Tumor volume (mm<tspan font-size="5.5" dy="-3">3</tspan><tspan dy="3">)</tspan></text>
<text transform="translate(13.60,203.40) rotate(-90)" font-size="10" font-weight="bold" text-anchor="middle" fill="#111" stroke="#111" stroke-width="0.25">A2058</text>
<line x1="102.50" y1="226.30" x2="109.20" y2="226.30" stroke="#111" stroke-width="1.1" />
<line x1="102.50" y1="238.90" x2="109.20" y2="238.90" stroke="#aaa" stroke-width="1.4" stroke-dasharray="2.6 2"/>
<text x="113.80" y="228.90" font-size="7.3" font-weight="bold" text-anchor="start" fill="#111" stroke="#111" stroke-width="0.25" >Untreated</text>
<text x="113.80" y="238.40" font-size="7.3" font-weight="bold" text-anchor="start" fill="#111" stroke="#111" stroke-width="0.25" >hIgG1-ADC</text>
<text x="113.80" y="247.00" font-size="7.3" font-weight="bold" text-anchor="start" fill="#111" stroke="#111" stroke-width="0.25" >(1 mg/kg)</text>
<polyline points="72.27,242.56 75.44,231.16 78.97,216.23 83.37,196.18 87.78,175.12" fill="none" stroke="#161616" stroke-width="1.2" stroke-linejoin="round" stroke-linecap="round" />
<polyline points="72.27,242.25 75.44,231.22 78.97,216.77 83.37,197.36 87.78,176.98" fill="none" stroke="#161616" stroke-width="1.2" stroke-linejoin="round" stroke-linecap="round" />
<polyline points="72.27,241.94 75.44,231.31 78.97,217.40 83.37,198.71 87.78,179.08" fill="none" stroke="#161616" stroke-width="1.2" stroke-linejoin="round" stroke-linecap="round" />
<polyline points="72.27,241.63 75.44,231.45 78.97,218.12 83.37,200.21 87.78,181.41" fill="none" stroke="#161616" stroke-width="1.2" stroke-linejoin="round" stroke-linecap="round" />
<polyline points="72.27,241.32 75.44,231.65 78.97,218.99 83.37,201.99 87.78,184.13" fill="none" stroke="#161616" stroke-width="1.2" stroke-linejoin="round" stroke-linecap="round" />
<polyline points="72.27,241.01 75.44,231.92 78.97,220.02 83.37,204.03 87.78,187.24" fill="none" stroke="#161616" stroke-width="1.2" stroke-linejoin="round" stroke-linecap="round" />
<polyline points="72.27,240.70 75.44,232.25 78.97,221.19 83.37,206.34 87.78,190.74" fill="none" stroke="#161616" stroke-width="1.2" stroke-linejoin="round" stroke-linecap="round" />
<polyline points="72.27,240.39 75.44,232.65 78.97,222.52 83.37,208.91 87.78,194.62" fill="none" stroke="#161616" stroke-width="1.2" stroke-linejoin="round" stroke-linecap="round" />
<polyline points="72.27,240.08 75.44,233.11 78.97,224.00 83.37,211.75 87.78,198.90" fill="none" stroke="#161616" stroke-width="1.2" stroke-linejoin="round" stroke-linecap="round" />
<polyline points="72.27,239.77 75.44,234.44 78.97,227.48 83.37,218.12 87.78,208.30" fill="none" stroke="#161616" stroke-width="1.2" stroke-linejoin="round" stroke-linecap="round" />
<polyline points="72.45,241.63 79.67,233.24 88.48,227.02" fill="none" stroke="#161616" stroke-width="1.15" stroke-linejoin="round" stroke-linecap="round" />
<polyline points="72.27,242.41 75.44,229.01 78.97,211.46 83.37,187.90 87.78,163.15" fill="none" stroke="#a8a8a8" stroke-width="1.2" stroke-linejoin="round" stroke-linecap="round" stroke-dasharray="2.4 1.8"/>
<polyline points="72.27,241.94 75.44,231.90 78.97,218.76 83.37,201.11 87.78,182.58" fill="none" stroke="#a8a8a8" stroke-width="1.2" stroke-linejoin="round" stroke-linecap="round" stroke-dasharray="2.4 1.8"/>
<polyline points="72.27,241.47 75.44,232.83 78.97,221.51 83.37,206.31 87.78,190.35" fill="none" stroke="#a8a8a8" stroke-width="1.2" stroke-linejoin="round" stroke-linecap="round" stroke-dasharray="2.4 1.8"/>
<polyline points="72.27,241.01 75.44,233.49 78.97,223.66 83.37,210.44 87.78,196.56" fill="none" stroke="#a8a8a8" stroke-width="1.2" stroke-linejoin="round" stroke-linecap="round" stroke-dasharray="2.4 1.8"/>
<polyline points="72.27,240.54 75.44,234.29 78.97,226.10 83.37,215.11 87.78,203.56" fill="none" stroke="#a8a8a8" stroke-width="1.2" stroke-linejoin="round" stroke-linecap="round" stroke-dasharray="2.4 1.8"/>
<polyline points="72.27,240.08 75.44,236.41 78.97,231.61 83.37,225.15 86.72,220.03" fill="none" stroke="#a8a8a8" stroke-width="1.2" stroke-linejoin="round" stroke-linecap="round" stroke-dasharray="2.4 1.8"/>
<polyline points="72.27,241.63 75.44,230.53 78.97,216.00 83.37,196.47 87.78,175.97" fill="none" stroke="#161616" stroke-width="0.9" stroke-linejoin="round" stroke-linecap="round" />
<polyline points="198.82,241.01 202.34,241.32 205.87,241.79 211.15,242.25 214.68,242.41 219.96,242.87 225.25,243.81 230.54,243.18 234.06,244.74 238.46,246.76 244.63,247.22 251.68,247.69 260.49,248.23 269.30,248.62" fill="none" stroke="#642a97" stroke-width="1.05" stroke-linejoin="round" stroke-linecap="round" />
<polyline points="198.82,241.63 202.34,241.94 205.87,242.10 211.15,242.56 214.68,242.87 219.96,243.96 225.25,244.58 230.54,243.81 234.06,245.36 238.46,247.07 244.63,247.54 251.68,248.00 260.49,248.47 269.30,248.78" fill="none" stroke="#642a97" stroke-width="1.05" stroke-linejoin="round" stroke-linecap="round" />
<polyline points="198.82,242.25 202.34,242.25 205.87,242.72 211.15,243.18 214.68,243.65 218.20,245.52 221.73,246.29 227.01,245.98 230.54,244.74 234.06,245.90 238.46,247.38 244.63,247.85 251.68,248.23 260.49,248.62 269.30,248.86" fill="none" stroke="#642a97" stroke-width="1.05" stroke-linejoin="round" stroke-linecap="round" />
<polyline points="198.82,242.87 202.34,243.18 205.87,243.34 211.15,243.81 214.68,244.58 218.20,247.85 223.49,248.23 230.54,248.31 237.58,248.31 244.63,248.62 251.68,248.78 260.49,249.01 269.30,249.09" fill="none" stroke="#642a97" stroke-width="1.05" stroke-linejoin="round" stroke-linecap="round" />
<polyline points="198.82,243.49 202.34,243.65 205.87,243.96 211.15,244.27 214.68,244.89 218.20,247.07 221.73,248.00 227.01,248.16 234.06,248.23 239.35,248.47 248.16,248.78 258.73,249.09 269.30,249.17" fill="none" stroke="#642a97" stroke-width="1.05" stroke-linejoin="round" stroke-linecap="round" />
<polyline points="198.82,244.12 202.34,243.96 205.87,244.43 211.15,244.74 214.68,245.05 219.96,245.67 225.25,246.29 230.54,246.60 235.82,247.22 242.87,248.00 251.68,248.47 260.49,248.78 269.30,249.01" fill="none" stroke="#642a97" stroke-width="1.05" stroke-linejoin="round" stroke-linecap="round" />
<polyline points="198.82,241.32 202.34,241.63 205.87,241.63 211.15,242.87 214.68,243.34 219.96,244.58 225.25,245.20 230.54,245.52 234.06,246.29 239.35,247.54 246.39,248.00 255.20,248.47 269.30,248.93" fill="none" stroke="#642a97" stroke-width="1.05" stroke-linejoin="round" stroke-linecap="round" />
<polyline points="198.82,242.56 202.34,242.72 205.87,242.41 211.15,243.49 214.68,244.12 219.96,244.89 225.25,245.83 230.54,246.14 235.82,246.91 242.87,247.69 251.68,248.31 260.49,248.70 269.30,248.93" fill="none" stroke="#642a97" stroke-width="1.05" stroke-linejoin="round" stroke-linecap="round" />
<polyline points="320.32,243.36 323.84,243.19 327.37,243.17 332.65,243.76 336.18,244.35 339.70,244.68" fill="none" stroke="#b982bf" stroke-width="1.15" stroke-linejoin="round" stroke-linecap="round" />
<polyline points="320.32,242.80 323.84,243.50 327.37,243.69 332.65,243.28 336.18,243.14 339.70,243.28" fill="none" stroke="#b982bf" stroke-width="1.15" stroke-linejoin="round" stroke-linecap="round" />
<polyline points="320.32,242.68 323.84,242.96 327.37,242.77 332.65,242.42 336.18,242.68 339.70,243.19" fill="none" stroke="#b982bf" stroke-width="1.15" stroke-linejoin="round" stroke-linecap="round" />
<polyline points="320.32,241.61 323.84,241.49 327.37,241.66 332.65,242.43 336.18,243.03 339.70,243.27" fill="none" stroke="#b982bf" stroke-width="1.15" stroke-linejoin="round" stroke-linecap="round" />
<polyline points="320.32,241.20 323.84,241.90 327.37,242.15 332.65,241.82 336.18,241.74 339.70,241.88" fill="none" stroke="#b982bf" stroke-width="1.15" stroke-linejoin="round" stroke-linecap="round" />
<polyline points="320.32,241.12 323.84,241.27 327.37,241.09 332.65,240.92 336.18,241.37 339.70,241.92" fill="none" stroke="#b982bf" stroke-width="1.15" stroke-linejoin="round" stroke-linecap="round" />
<polyline points="320.32,240.55 323.84,240.50 327.37,240.33 332.65,240.47 336.18,241.11 339.70,241.68" fill="none" stroke="#b982bf" stroke-width="1.15" stroke-linejoin="round" stroke-linecap="round" />
<polyline points="320.32,240.85 326.66,237.20 336.18,240.70 342.17,226.25 347.81,216.61 351.15,209.00 353.97,200.22" fill="none" stroke="#b982bf" stroke-width="1.2" stroke-linejoin="round" stroke-linecap="round" />
<polyline points="336.18,241.63 343.23,237.75 348.51,231.92 352.74,225.31 356.44,212.73 359.08,195.01" fill="none" stroke="#b982bf" stroke-width="1.2" stroke-linejoin="round" stroke-linecap="round" />
<polyline points="341.46,241.63 347.81,234.87 354.68,226.25 357.50,214.67 358.56,206.04" fill="none" stroke="#b982bf" stroke-width="1.2" stroke-linejoin="round" stroke-linecap="round" />
<polyline points="344.99,240.85 350.80,235.88 354.68,229.20 358.56,221.43 362.26,208.92 366.13,196.95" fill="none" stroke="#b982bf" stroke-width="1.2" stroke-linejoin="round" stroke-linecap="round" />
<polyline points="339.70,242.02 349.75,241.63 353.80,237.75 358.56,233.01 367.19,227.18 375.82,215.68 380.23,205.89 383.75,194.47" fill="none" stroke="#b982bf" stroke-width="1.2" stroke-linejoin="round" stroke-linecap="round" />
<polyline points="339.70,243.18 344.99,243.96 352.74,245.52 359.08,246.68 367.19,247.38 373.18,246.29 377.76,244.50 385.34,238.76 390.80,232.00" fill="none" stroke="#b982bf" stroke-width="1.2" stroke-linejoin="round" stroke-linecap="round" />
<polyline points="339.70,242.41 344.99,243.18 352.74,244.74 359.08,246.14 367.19,247.07 373.18,246.68 377.76,245.52 385.34,240.85 390.80,234.25" fill="none" stroke="#b982bf" stroke-width="1.2" stroke-linejoin="round" stroke-linecap="round" />
<line x1="38.10" y1="295.18" x2="38.10" y2="397.20" stroke="#111" stroke-width="1.45" />
<line x1="37.40" y1="396.50" x2="190.90" y2="396.50" stroke="#111" stroke-width="1.45" />
<line x1="190.20" y1="295.18" x2="190.20" y2="397.20" stroke="#111" stroke-width="1.45" />
<line x1="34.10" y1="396.50" x2="38.10" y2="396.50" stroke="#111" stroke-width="1.4" />
<text x="32.10" y="398.85" font-size="6.4" font-weight="bold" text-anchor="end" fill="#111" stroke="#111" stroke-width="0.14" >0</text>
<line x1="34.10" y1="379.73" x2="38.10" y2="379.73" stroke="#111" stroke-width="1.4" />
<text x="32.10" y="382.08" font-size="6.4" font-weight="bold" text-anchor="end" fill="#111" stroke="#111" stroke-width="0.14" >20</text>
<line x1="34.10" y1="362.96" x2="38.10" y2="362.96" stroke="#111" stroke-width="1.4" />
<text x="32.10" y="365.31" font-size="6.4" font-weight="bold" text-anchor="end" fill="#111" stroke="#111" stroke-width="0.14" >40</text>
<line x1="34.10" y1="346.19" x2="38.10" y2="346.19" stroke="#111" stroke-width="1.4" />
<text x="32.10" y="348.54" font-size="6.4" font-weight="bold" text-anchor="end" fill="#111" stroke="#111" stroke-width="0.14" >60</text>
<line x1="34.10" y1="329.42" x2="38.10" y2="329.42" stroke="#111" stroke-width="1.4" />
<text x="32.10" y="331.77" font-size="6.4" font-weight="bold" text-anchor="end" fill="#111" stroke="#111" stroke-width="0.14" >80</text>
<line x1="34.10" y1="312.65" x2="38.10" y2="312.65" stroke="#111" stroke-width="1.4" />
<text x="32.10" y="315.00" font-size="6.4" font-weight="bold" text-anchor="end" fill="#111" stroke="#111" stroke-width="0.14" >100</text>
<line x1="34.10" y1="295.88" x2="38.10" y2="295.88" stroke="#111" stroke-width="1.4" />
<text x="32.10" y="298.23" font-size="6.4" font-weight="bold" text-anchor="end" fill="#111" stroke="#111" stroke-width="0.14" >120</text>
<line x1="190.20" y1="396.50" x2="193.40" y2="396.50" stroke="#111" stroke-width="1.3" />
<text x="194.90" y="398.90" font-size="6.4" font-weight="bold" text-anchor="start" fill="#111" stroke="#111" stroke-width="0.14" >0</text>
<line x1="190.20" y1="393.15" x2="192.20" y2="393.15" stroke="#111" stroke-width="1.0" />
<line x1="190.20" y1="389.80" x2="192.20" y2="389.80" stroke="#111" stroke-width="1.0" />
<line x1="190.20" y1="386.45" x2="192.20" y2="386.45" stroke="#111" stroke-width="1.0" />
<line x1="190.20" y1="383.10" x2="192.20" y2="383.10" stroke="#111" stroke-width="1.0" />
<line x1="190.20" y1="379.75" x2="193.40" y2="379.75" stroke="#111" stroke-width="1.3" />
<text x="194.90" y="382.15" font-size="6.4" font-weight="bold" text-anchor="start" fill="#111" stroke="#111" stroke-width="0.14" >5 × 10<tspan font-size="4.8" dy="-2.3">4</tspan></text>
<line x1="190.20" y1="376.40" x2="192.20" y2="376.40" stroke="#111" stroke-width="1.0" />
<line x1="190.20" y1="373.05" x2="192.20" y2="373.05" stroke="#111" stroke-width="1.0" />
<line x1="190.20" y1="369.70" x2="192.20" y2="369.70" stroke="#111" stroke-width="1.0" />
<line x1="190.20" y1="366.35" x2="192.20" y2="366.35" stroke="#111" stroke-width="1.0" />
<line x1="190.20" y1="363.00" x2="193.40" y2="363.00" stroke="#111" stroke-width="1.3" />
<text x="194.90" y="365.40" font-size="6.4" font-weight="bold" text-anchor="start" fill="#111" stroke="#111" stroke-width="0.14" >1 × 10<tspan font-size="4.8" dy="-2.3">5</tspan></text>
<line x1="190.20" y1="359.65" x2="192.20" y2="359.65" stroke="#111" stroke-width="1.0" />
<line x1="190.20" y1="356.30" x2="192.20" y2="356.30" stroke="#111" stroke-width="1.0" />
<line x1="190.20" y1="352.95" x2="192.20" y2="352.95" stroke="#111" stroke-width="1.0" />
<line x1="190.20" y1="349.60" x2="192.20" y2="349.60" stroke="#111" stroke-width="1.0" />
<line x1="190.20" y1="346.25" x2="193.40" y2="346.25" stroke="#111" stroke-width="1.3" />
<text x="194.90" y="348.65" font-size="6.4" font-weight="bold" text-anchor="start" fill="#111" stroke="#111" stroke-width="0.14" >1.5 × 10<tspan font-size="4.8" dy="-2.3">5</tspan></text>
<line x1="190.20" y1="342.90" x2="192.20" y2="342.90" stroke="#111" stroke-width="1.0" />
<line x1="190.20" y1="339.55" x2="192.20" y2="339.55" stroke="#111" stroke-width="1.0" />
<line x1="190.20" y1="336.20" x2="192.20" y2="336.20" stroke="#111" stroke-width="1.0" />
<line x1="190.20" y1="332.85" x2="192.20" y2="332.85" stroke="#111" stroke-width="1.0" />
<line x1="190.20" y1="329.50" x2="193.40" y2="329.50" stroke="#111" stroke-width="1.3" />
<text x="194.90" y="331.90" font-size="6.4" font-weight="bold" text-anchor="start" fill="#111" stroke="#111" stroke-width="0.14" >2 × 10<tspan font-size="4.8" dy="-2.3">5</tspan></text>
<line x1="190.20" y1="326.15" x2="192.20" y2="326.15" stroke="#111" stroke-width="1.0" />
<line x1="190.20" y1="322.80" x2="192.20" y2="322.80" stroke="#111" stroke-width="1.0" />
<line x1="190.20" y1="319.45" x2="192.20" y2="319.45" stroke="#111" stroke-width="1.0" />
<line x1="190.20" y1="316.10" x2="192.20" y2="316.10" stroke="#111" stroke-width="1.0" />
<line x1="190.20" y1="312.75" x2="193.40" y2="312.75" stroke="#111" stroke-width="1.3" />
<text x="194.90" y="315.15" font-size="6.4" font-weight="bold" text-anchor="start" fill="#111" stroke="#111" stroke-width="0.14" >2.5 × 10<tspan font-size="4.8" dy="-2.3">5</tspan></text>
<line x1="190.20" y1="309.40" x2="192.20" y2="309.40" stroke="#111" stroke-width="1.0" />
<line x1="190.20" y1="306.05" x2="192.20" y2="306.05" stroke="#111" stroke-width="1.0" />
<line x1="190.20" y1="302.70" x2="192.20" y2="302.70" stroke="#111" stroke-width="1.0" />
<line x1="190.20" y1="299.35" x2="192.20" y2="299.35" stroke="#111" stroke-width="1.0" />
<line x1="190.20" y1="296.00" x2="193.40" y2="296.00" stroke="#111" stroke-width="1.3" />
<text x="194.90" y="298.40" font-size="6.4" font-weight="bold" text-anchor="start" fill="#111" stroke="#111" stroke-width="0.14" >3 × 10<tspan font-size="4.8" dy="-2.3">5</tspan></text>
<text transform="translate(229.6,298.2) rotate(90)" font-size="8.9" font-weight="bold" fill="#111" stroke="#111" stroke-width="0.25">Receptor Number (<tspan fill="#de1a3a" stroke="#de1a3a" font-size="12" dy="0.7">●</tspan><tspan dy="-0.7">)</tspan></text>
<text transform="translate(19.00,344.20) rotate(-90)" font-size="9.3" font-weight="normal" text-anchor="middle" fill="#111" stroke="#111" stroke-width="0.18">% TGI</text>
<line x1="38.10" y1="378.30" x2="190.20" y2="378.30" stroke="#222" stroke-width="1.0" stroke-dasharray="3 2.2"/>
<rect x="44.90" y="330.12" width="11.20" height="66.38" fill="url(#pgrid)" stroke="#111" stroke-width="1.4"/>
<line x1="50.50" y1="396.50" x2="50.50" y2="400.70" stroke="#111" stroke-width="1.3" />
<text transform="translate(53.00,402.00) rotate(-90)" font-size="7.55" font-weight="normal" text-anchor="end" fill="#111" stroke="#111" stroke-width="0.18">MDA-MB-231</text>
<line x1="68.67" y1="323.55" x2="68.67" y2="335.29" stroke="#111" stroke-width="1.0" />
<line x1="65.57" y1="323.55" x2="71.77" y2="323.55" stroke="#111" stroke-width="1.0" />
<rect x="63.07" y="335.99" width="11.20" height="60.51" fill="#9a9a9a" stroke="#111" stroke-width="1.4"/>
<line x1="68.67" y1="396.50" x2="68.67" y2="400.70" stroke="#111" stroke-width="1.3" />
<text transform="translate(71.17,402.00) rotate(-90)" font-size="7.55" font-weight="normal" text-anchor="end" fill="#111" stroke="#111" stroke-width="0.18">Colo-853</text>
<rect x="81.24" y="322.57" width="11.20" height="73.93" fill="url(#pvert)" stroke="#111" stroke-width="1.4"/>
<line x1="86.84" y1="396.50" x2="86.84" y2="400.70" stroke="#111" stroke-width="1.3" />
<text transform="translate(89.34,402.00) rotate(-90)" font-size="7.55" font-weight="normal" text-anchor="end" fill="#111" stroke="#111" stroke-width="0.18">CALU-1</text>
<line x1="105.01" y1="313.49" x2="105.01" y2="319.36" stroke="#111" stroke-width="1.0" />
<line x1="101.91" y1="313.49" x2="108.11" y2="313.49" stroke="#111" stroke-width="1.0" />
<rect x="99.41" y="320.06" width="11.20" height="76.44" fill="#9a9a9a" stroke="#111" stroke-width="1.4"/>
<line x1="105.01" y1="396.50" x2="105.01" y2="400.70" stroke="#111" stroke-width="1.3" />
<text transform="translate(107.51,402.00) rotate(-90)" font-size="7.55" font-weight="normal" text-anchor="end" fill="#111" stroke="#111" stroke-width="0.18">A2058</text>
<rect x="117.58" y="316.96" width="11.20" height="79.54" fill="#000" stroke="#111" stroke-width="1.4"/>
<line x1="123.18" y1="396.50" x2="123.18" y2="400.70" stroke="#111" stroke-width="1.3" />
<text transform="translate(125.68,402.00) rotate(-90)" font-size="7.55" font-weight="normal" text-anchor="end" fill="#111" stroke="#111" stroke-width="0.18">HT-1080</text>
<rect x="135.75" y="359.89" width="11.20" height="36.61" fill="url(#pdiag)" stroke="#111" stroke-width="1.4"/>
<line x1="141.35" y1="396.50" x2="141.35" y2="400.70" stroke="#111" stroke-width="1.3" />
<text transform="translate(143.85,402.00) rotate(-90)" font-size="7.55" font-weight="normal" text-anchor="end" fill="#111" stroke="#111" stroke-width="0.18">HPAFII</text>
<rect x="153.92" y="354.44" width="11.20" height="42.06" fill="#9a9a9a" stroke="#111" stroke-width="1.4"/>
<line x1="159.52" y1="396.50" x2="159.52" y2="400.70" stroke="#111" stroke-width="1.3" />
<text transform="translate(162.02,402.00) rotate(-90)" font-size="7.55" font-weight="normal" text-anchor="end" fill="#111" stroke="#111" stroke-width="0.18">IGR-37</text>
<rect x="172.09" y="364.08" width="11.20" height="32.42" fill="#9a9a9a" stroke="#111" stroke-width="1.4"/>
<line x1="177.69" y1="396.50" x2="177.69" y2="400.70" stroke="#111" stroke-width="1.3" />
<text transform="translate(180.19,402.00) rotate(-90)" font-size="7.55" font-weight="normal" text-anchor="end" fill="#111" stroke="#111" stroke-width="0.18">A375</text>
<circle cx="49.90" cy="301.75" r="2.3" fill="#de1a3a"/>
<circle cx="68.07" cy="365.48" r="2.3" fill="#de1a3a"/>
<circle cx="86.24" cy="376.38" r="2.3" fill="#de1a3a"/>
<circle cx="104.41" cy="379.31" r="2.3" fill="#de1a3a"/>
<circle cx="122.58" cy="384.51" r="2.3" fill="#de1a3a"/>
<circle cx="140.75" cy="385.60" r="2.3" fill="#de1a3a"/>
<circle cx="158.92" cy="388.45" r="2.3" fill="#de1a3a"/>
<circle cx="177.09" cy="391.30" r="2.3" fill="#de1a3a"/>
<rect x="72.90" y="442.90" width="10.5" height="5.4" fill="url(#pgridL)" stroke="#111" stroke-width="1.1"/>
<text x="87.20" y="448.80" font-size="7.5" font-weight="normal" text-anchor="start" fill="#111" stroke="#111" stroke-width="0.18" >Breast</text>
<rect x="72.90" y="453.60" width="10.5" height="5.4" fill="#9a9a9a" stroke="#111" stroke-width="1.1"/>
<text x="87.20" y="459.50" font-size="7.5" font-weight="normal" text-anchor="start" fill="#111" stroke="#111" stroke-width="0.18" >Melanoma</text>
<rect x="72.90" y="463.80" width="10.5" height="5.4" fill="url(#pvertL)" stroke="#111" stroke-width="1.1"/>
<text x="87.20" y="469.70" font-size="7.5" font-weight="normal" text-anchor="start" fill="#111" stroke="#111" stroke-width="0.18" >NSCLC</text>
<rect x="135.00" y="442.90" width="10.5" height="5.4" fill="#000" stroke="#111" stroke-width="1.1"/>
<text x="148.60" y="448.80" font-size="7.5" font-weight="normal" text-anchor="start" fill="#111" stroke="#111" stroke-width="0.18" >Fibrosarcoma</text>
<rect x="135.00" y="453.60" width="10.5" height="5.4" fill="url(#pdiag)" stroke="#111" stroke-width="1.1"/>
<text x="148.60" y="459.50" font-size="7.5" font-weight="normal" text-anchor="start" fill="#111" stroke="#111" stroke-width="0.18" >Pancreatic</text>
<line x1="356.70" y1="311.70" x2="356.70" y2="367.00" stroke="#111" stroke-width="1.45" />
<line x1="356.00" y1="366.30" x2="506.96" y2="366.30" stroke="#111" stroke-width="1.45" />
<line x1="356.70" y1="366.30" x2="356.70" y2="370.50" stroke="#111" stroke-width="1.4" />
<text x="356.70" y="378.60" font-size="7.2" font-weight="bold" text-anchor="middle" fill="#111" stroke="#111" stroke-width="0.25" >0</text>
<line x1="386.61" y1="366.30" x2="386.61" y2="370.50" stroke="#111" stroke-width="1.4" />
<text x="386.61" y="378.60" font-size="7.2" font-weight="bold" text-anchor="middle" fill="#111" stroke="#111" stroke-width="0.25" >25</text>
<line x1="416.52" y1="366.30" x2="416.52" y2="370.50" stroke="#111" stroke-width="1.4" />
<text x="416.52" y="378.60" font-size="7.2" font-weight="bold" text-anchor="middle" fill="#111" stroke="#111" stroke-width="0.25" >50</text>
<line x1="446.44" y1="366.30" x2="446.44" y2="370.50" stroke="#111" stroke-width="1.4" />
<text x="446.44" y="378.60" font-size="7.2" font-weight="bold" text-anchor="middle" fill="#111" stroke="#111" stroke-width="0.25" >75</text>
<line x1="476.35" y1="366.30" x2="476.35" y2="370.50" stroke="#111" stroke-width="1.4" />
<text x="476.35" y="378.60" font-size="7.2" font-weight="bold" text-anchor="middle" fill="#111" stroke="#111" stroke-width="0.25" >100</text>
<line x1="506.26" y1="366.30" x2="506.26" y2="370.50" stroke="#111" stroke-width="1.4" />
<text x="506.26" y="378.60" font-size="7.2" font-weight="bold" text-anchor="middle" fill="#111" stroke="#111" stroke-width="0.25" >125</text>
<text x="432.28" y="391.90" font-size="8.8" font-weight="normal" text-anchor="middle" fill="#111" stroke="#111" stroke-width="0.18" >Response rate (%)</text>
<line x1="352.30" y1="327.10" x2="356.70" y2="327.10" stroke="#111" stroke-width="1.4" />
<text x="350.40" y="329.40" font-size="8.7" font-weight="normal" text-anchor="end" fill="#111" stroke="#111" stroke-width="0.18" >3 mg/kg</text>
<rect x="433.63" y="319.90" width="36.01" height="14.4" fill="url(#pdense)"/>
<rect x="469.65" y="319.90" width="6.70" height="14.4" fill="#d6d6d6"/>
<rect x="356.70" y="319.40" width="76.93" height="15.4" fill="#000"/>
<rect x="356.70" y="320.00" width="119.45" height="14.200000000000001" fill="none" stroke="#1a1a1a" stroke-width="1.25"/>
<line x1="469.65" y1="319.40" x2="469.65" y2="334.80" stroke="#1a1a1a" stroke-width="1.2" />
<text x="484.4" y="329.10" font-size="8.9" fill="#111" stroke="#111" stroke-width="0.22"><tspan font-style="italic">n</tspan> = 98</text>
<line x1="352.30" y1="350.80" x2="356.70" y2="350.80" stroke="#111" stroke-width="1.4" />
<text x="350.40" y="353.10" font-size="8.7" font-weight="normal" text-anchor="end" fill="#111" stroke="#111" stroke-width="0.18" >1 mg/kg</text>
<rect x="391.40" y="343.60" width="58.99" height="14.4" fill="url(#pdense)"/>
<rect x="450.39" y="343.60" width="25.96" height="14.4" fill="#d6d6d6"/>
<rect x="356.70" y="343.10" width="34.70" height="15.4" fill="#000"/>
<rect x="356.70" y="343.70" width="119.45" height="14.200000000000001" fill="none" stroke="#1a1a1a" stroke-width="1.25"/>
<line x1="450.39" y1="343.10" x2="450.39" y2="358.50" stroke="#1a1a1a" stroke-width="1.2" />
<text x="484.4" y="352.80" font-size="8.9" fill="#111" stroke="#111" stroke-width="0.22"><tspan font-style="italic">n</tspan> = 76</text>
<text transform="translate(315.30,335.80) rotate(-90)" font-size="8.4" font-weight="normal" text-anchor="middle" fill="#111" stroke="#111" stroke-width="0.18">SGN-CD228A</text>
<rect x="354.80" y="408.50" width="11.2" height="4" fill="#000" stroke="#111" stroke-width="1.1"/>
<text x="372.50" y="413.20" font-size="7.7" font-weight="normal" text-anchor="start" fill="#111" stroke="#111" stroke-width="0.18" >CR (complete response)</text>
<rect x="354.80" y="419.00" width="11.2" height="4" fill="url(#pdense)" stroke="#111" stroke-width="1.1"/>
<text x="372.50" y="423.70" font-size="7.7" font-weight="normal" text-anchor="start" fill="#111" stroke="#111" stroke-width="0.18" >PR (partial response)</text>
<rect x="354.80" y="430.00" width="11.2" height="4" fill="#d2d2d2" stroke="#111" stroke-width="1.1"/>
<text x="372.50" y="434.70" font-size="7.7" font-weight="normal" text-anchor="start" fill="#111" stroke="#111" stroke-width="0.18" >PD (progressive disease)</text>
</svg>
</body></html>
